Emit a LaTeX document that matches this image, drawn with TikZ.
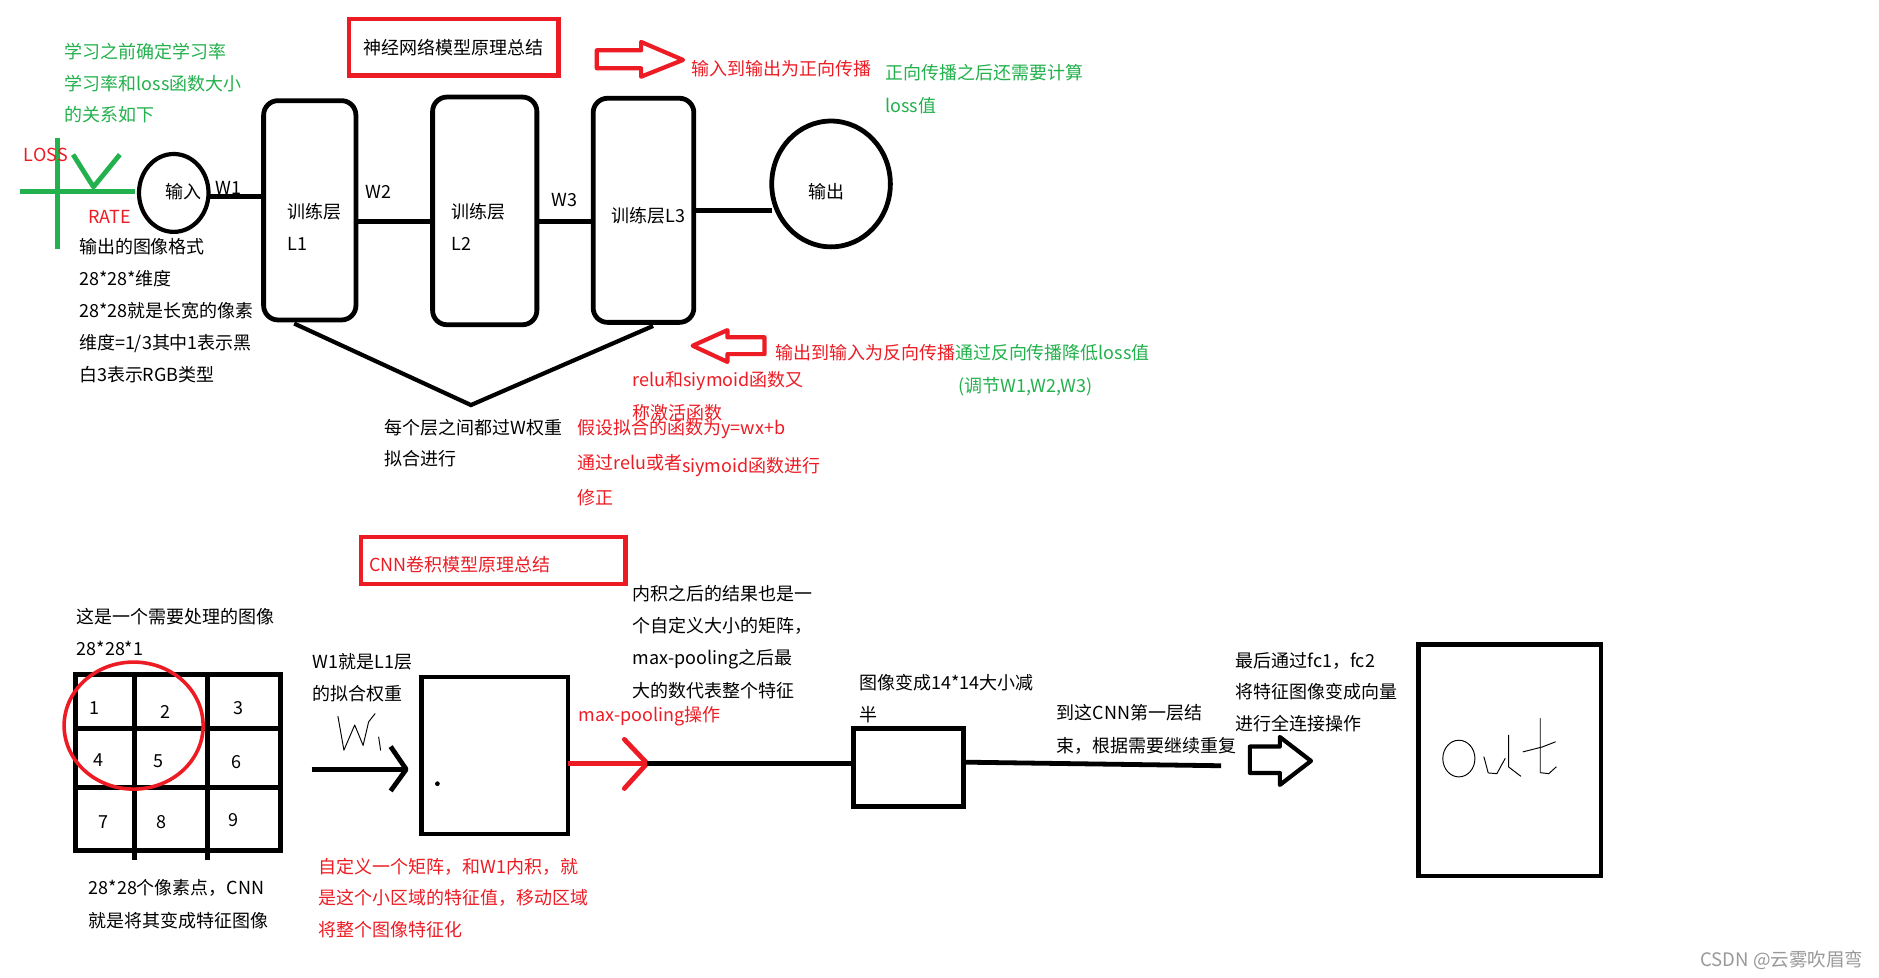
\documentclass[tikz,border=0pt]{standalone}
\usepackage{fontspec}
\setmainfont{Noto Sans CJK SC}
\usetikzlibrary{shapes.geometric,calc}
\definecolor{pred}{HTML}{ED1C24}
\definecolor{pgreen}{HTML}{22B14C}
\begin{document}
\begin{tikzpicture}[x=1pt,y=-1pt,
  every node/.style={inner sep=0pt,outer sep=0pt,font=\fontsize{15}{18}\selectfont},
  txt/.style={anchor=base west,yshift=-5.7pt},
  lbox/.style={draw,rounded corners=12pt,line width=4pt},
  oval/.style={draw,ellipse,line width=3.5pt},
  sq/.style={draw,line width=4pt},
  bl/.style={line width=4pt},
  hand/.style={line width=0.8pt,line join=round,line cap=round},
  hollow/.style={line width=3.5pt,line join=round}]
\fill[white] (0,0) rectangle (1568,816);
\useasboundingbox (0,0) rectangle (1568,816);

% ---------- top: neural network ----------
\foreach \t [count=\i] in {学习之前确定学习率,学习率和loss函数大小,的关系如下}
  \node[txt,text=pgreen] (ga\i) at (54,{43+(\i-1)*26.5}) {\t};

\node[draw=pred,line width=3.5pt,minimum width=175pt,minimum height=47pt] (t1) at (378.5,39.5) {神经网络模型原理总结};

\draw[pred,hollow] (498,42) -- (535,42) -- (535,35) -- (570,50) -- (535,64) -- (535,57) -- (498,57) -- cycle;
\node[txt,text=pred] (fw) at (577,57) {输入到输出为正向传播};
\node[txt,text=pgreen] (gb1) at (739,61) {正向传播之后还需要计算};
\node[txt,text=pgreen] (gb2) at (739,88.5) {loss值};

% loss curve
\draw[pgreen,line width=4pt] (17,160) -- (113,160);
\draw[pgreen,line width=4pt] (48,115) -- (48,208);
\draw[pgreen,line width=4pt,line join=round] (61,129) -- (78,156) -- (100,129);
\node[txt,text=pred] (loss) at (20,129) {LOSS};
\node[txt,text=pred] (rate) at (73.5,181) {RATE};

\foreach \t [count=\i] in {输出的图像格式,{28*28*维度},{28*28就是长宽的像素},{维度=1/3其中1表示黑},{白3表示RGB类型}}
  \node[txt] (bk\i) at (66,{206+(\i-1)*26.75}) {\t};

\node[oval,minimum width=58pt,minimum height=65pt] (in) at (145,161) {};
\node (inl) at (153,160) {输入};
\node[lbox,minimum width=77pt,minimum height=183pt] (L1) at (258.5,175.5) {};
\node[lbox,minimum width=87pt,minimum height=190pt] (L2) at (404.5,176) {};
\node[lbox,minimum width=84pt,minimum height=187pt] (L3) at (537,175.5) {};
\node[oval,line width=4pt,minimum width=99pt,minimum height=105pt] (out) at (693.5,153.5) {};

\node[txt] (l1a) at (240,177) {训练层};
\node[txt] (l1b) at (240,203) {L1};
\node[txt] (l2a) at (377,177) {训练层};
\node[txt] (l2b) at (377,203) {L2};
\node (l3a) at (541,180) {训练层L3};
\node (outl) at (690,160) {输出};

\draw[bl] ([yshift=-3pt]in.east) -- ([yshift=-3pt]in.east -| L1.west);
\draw[bl] ([yshift=-9.5pt]L1.east) -- ([yshift=-9.5pt]L1.east -| L2.west);
\draw[bl] ([yshift=-9pt]L2.east) -- ([yshift=-9pt]L2.east -| L3.west);
\draw[bl] (L3.east) -- (L3.east -| out.west);
\node[txt] (w1) at (180,157) {W1};
\node[txt] (w2) at (305,160) {W2};
\node[txt] (w3) at (460,167) {W3};

\coordinate (v) at (393,338);
\draw[line width=3.5pt] ([xshift=-13pt,yshift=-3pt]L1.south) -- (v) -- ([xshift=8pt,yshift=-3pt]L3.south);

\draw[pred,hollow] (638,281.5) -- (607,281.5) -- (607,275.5) -- (578,288.5) -- (607,302) -- (607,295.5) -- (638,295.5) -- cycle;
\node[txt] (bw) at (647,294.5) {\color{pred}输出到输入为反向传播\color{pgreen}通过反向传播降低loss值};
\node[txt,text=pgreen] (adj) at (800,321.5) {(调节W1,W2,W3)};
\node[txt,text=pred] (ra1) at (528,317) {relu和siymoid函数又};
\node[txt,text=pred] (ra2) at (528,344) {称激活函数};
\node[txt] (wq1) at (321,357) {每个层之间都过W权重};
\node[txt] (wq2) at (321,383) {拟合进行};
\node[txt,text=pred] (fx1) at (482,357) {假设拟合的函数为y=wx+b};
\node[txt,text=pred] (fx2) at (482,386.5) {通过relu或者\raisebox{-2pt}{siymoid函数进行}};
\node[txt,text=pred] (fx3) at (482,415) {修正};

% ---------- bottom: CNN ----------
\node[draw=pred,line width=3.5pt,minimum width=221pt,minimum height=39pt] (t2) at (411.5,467.5) {};
\node[txt,text=pred] (t2l) at (308,471.5) {CNN卷积模型原理总结};

\node[txt] (im1) at (64,515) {这是一个需要处理的图像};
\node[txt] (im2) at (64,541) {28*28*1};

\draw[bl] (63,563) rectangle (234,710);
\draw[bl] (112,563) -- (112,718);
\draw[bl] (173,563) -- (173,718);
\draw[bl] (63,608) -- (236,608);
\draw[bl] (63,657) -- (236,657);
\foreach \n/\px/\py in {1/79/591,2/138/594,3/199/591,4/82/634,5/132/635,6/197/636,7/86/686,8/135/686,9/195/684}
  \node (n\n) at (\px,\py) {\n};
\node[draw=pred,ellipse,line width=3pt,minimum width=116pt,minimum height=106pt] (rc) at (111.5,605.5) {};

\node[txt] (px1) at (74,741) {28*28个像素点，CNN};
\node[txt] (px2) at (74,768) {就是将其变成特征图像};

\node[txt] (wl1) at (261,552) {W1就是L1层};
\node[txt] (wl2) at (261,579) {的拟合权重};
\draw[hand] (282,597.8) -- (287,626) -- (296,605) -- (303,622) -- (307.6,602.4) -- (313,595.5);
\draw[hand] (316,615) -- (317.6,626);

\node[sq,minimum width=122pt,minimum height=131pt] (fm) at (413,630.5) {};
\fill (365,654) circle (2);
\coordinate (ws) at (260,642);
\coordinate (we) at (339,642);
\draw[bl] (ws) -- (we);
\draw[bl,line join=round] ($(we)+(-13,-19)$) -- (we) -- ($(we)+(-13,18)$);

\foreach \t [count=\i] in {自定义一个矩阵，和W1内积，就,是这个小区域的特征值，移动区域,将整个图像特征化}
  \node[txt,text=pred] (cd\i) at (266,{723+(\i-1)*26.5}) {\t};

\foreach \t [count=\i] in {内积之后的结果也是一,个自定义大小的矩阵，,max-pooling之后最,大的数代表整个特征}
  \node[txt] (ip\i) at (528,{495+(\i-1)*27}) {\t};
\node[txt,text=pred] (mp) at (483,596) {max-pooling操作};

\node[sq,minimum width=92pt,minimum height=65pt] (sb) at (758,640.5) {};
\coordinate (rh) at (540,637);
\draw[pred,bl] (fm.east |- rh) -- (rh);
\draw[pred,bl,line cap=round,line join=round] ($(rh)+(-19,-20)$) -- (rh) -- ($(rh)+(-19,21)$);
\draw[bl] (rh) -- (rh -| sb.west);
\node[txt] (hs1) at (717,570) {图像变成14*14大小减};
\node[txt] (hs2) at (717,596) {半};

\coordinate (le) at (1019,639);
\draw[bl] ([yshift=4.5pt]sb.east) -- (le);
\node[txt] (cn1) at (882,595) {到这CNN第一层结};
\node[txt] (cn2) at (882,622) {束，根据需要继续重复};

\draw[hollow] (1043,623) -- (1068,623) -- (1068,615) -- (1094,635) -- (1068,655) -- (1068,645) -- (1043,645) -- cycle;
\foreach \t [count=\i] in {最后通过fc1，fc2,将特征图像变成向量,进行全连接操作}
  \node[txt] (fc\i) at (1031,{551+(\i-1)*26.5}) {\t};

\node[sq,minimum width=152pt,minimum height=193pt] (ob) at (1260,634.5) {};
\draw[hand] (1217.4,633) ellipse [x radius=13.4, y radius=15.3];
\draw[hand] (1238.3,631.6) -- (1241.9,645) -- (1249.1,645.6) -- (1256,633);
\draw[hand] (1258.9,613.5) -- (1258.9,640) -- (1269,647.7);
\draw[hand] (1285.3,599.6) -- (1285.3,644.8) -- (1292.4,645.6) -- (1298.6,640);
\draw[hand] (1270.9,627.4) -- (1287.1,623.3) -- (1297.9,619.1);

\node[anchor=base east,yshift=-5.5pt,text=gray!80,font=\fontsize{15.5}{18}\selectfont] (wm) at (1555,801) {CSDN @云雾吹眉弯};
\end{tikzpicture}
\end{document}
